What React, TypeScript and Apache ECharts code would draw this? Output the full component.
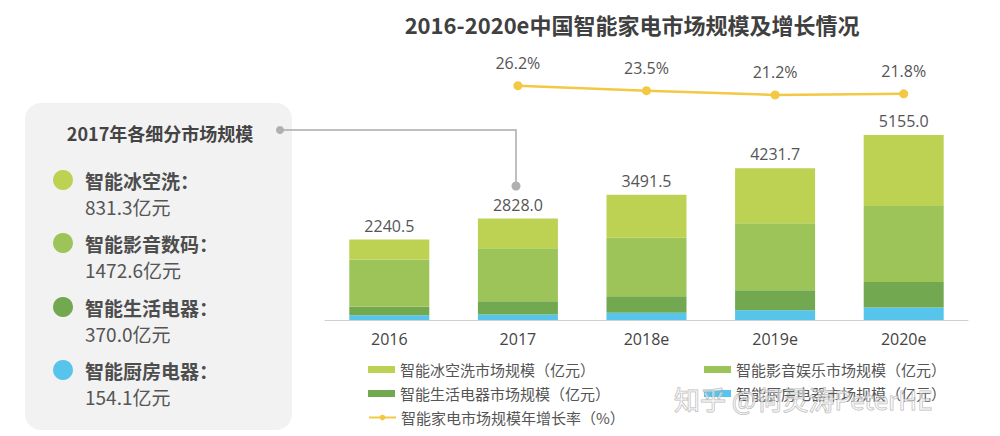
import React, { useEffect, useRef } from "react";
import * as echarts from "echarts";

// Years on the category axis
const years = ["2016", "2017", "2018e", "2019e", "2020e"];

// Segment sizes (亿元), stacked bottom → top: kitchen, living, audio/video, fridge/AC/washer
const iceWash = [555.5, 831.3, 1201.5, 1536.7, 1978.0];
const audioVideo = [1315.0, 1472.6, 1630.0, 1865.0, 2117.0];
const living = [240.0, 370.0, 460.0, 555.0, 715.0];
const kitchen = [130.0, 154.1, 200.0, 275.0, 345.0];

// Year-on-year growth of the whole market (%)
const growth: (number | string)[] = ["-", 26.2, 23.5, 21.2, 21.8];

// Legend / series names
const seriesNames = [
  "智能冰空洗市场规模（亿元）",
  "智能影音娱乐市场规模（亿元）",
  "智能生活电器市场规模（亿元）",
  "智能厨房电器市场规模（亿元）",
  "智能家电市场规模年增长率（%）",
];

// Side panel: the 2017 breakdown
const panelNames = ["智能冰空洗", "智能影音数码", "智能生活电器", "智能厨房电器"];
const panelYear = 1;

const colors = {
  ice: "#bdd153",
  av: "#9cc458",
  living: "#72a84f",
  kitchen: "#57c4ec",
  line: "#f3c843",
};

const totals = years.map(
  (_, i) => Math.round((iceWash[i] + audioVideo[i] + living[i] + kitchen[i]) * 10) / 10
);

const CJK = "'Noto Sans CJK SC', 'Noto Sans', sans-serif";
const NUM = "'Open Sans', 'Noto Sans CJK SC', sans-serif";

export default function App() {
  const ref = useRef<HTMLDivElement>(null);

  useEffect(() => {
    if (!ref.current) return;
    const chart = echarts.init(ref.current, null, { renderer: "svg" });

    const panelSeries = [iceWash, audioVideo, living, kitchen];
    const panelColors = [colors.ice, colors.av, colors.living, colors.kitchen];
    const panelRows = [180, 243, 307, 370];

    const panelGraphics: any[] = [];
    panelNames.forEach((name, i) => {
      const y = panelRows[i];
      panelGraphics.push({
        type: "circle",
        shape: { cx: 63, cy: y, r: 10 },
        style: { fill: panelColors[i] },
        z: 2,
      });
      panelGraphics.push({
        type: "text",
        x: 85,
        y: y,
        style: {
          text: name + "：",
          fontSize: 19,
          fontFamily: CJK,
          fontWeight: "bold",
          fill: "#4d4d4d",
          textVerticalAlign: "middle",
        },
        z: 2,
      });
      panelGraphics.push({
        type: "text",
        x: 85,
        y: y + 26,
        style: {
          text: panelSeries[i][panelYear].toFixed(1) + "亿元",
          fontSize: 19,
          fontFamily: CJK,
          fill: "#555",
          textVerticalAlign: "middle",
        },
        z: 2,
      });
    });

    const legendBase = {
      padding: 0,
      itemWidth: 27,
      itemHeight: 7,
      textStyle: { fontSize: 15, color: "#555", fontFamily: CJK },
      selectedMode: false,
    };

    const option: any = {
      animation: false,
      backgroundColor: "#ffffff",
      grid: [
        { left: 325, right: 32, top: 104.7, bottom: 116 },
        { left: 325, right: 32, top: 78.6, height: 55.8 },
      ],
      xAxis: [
        {
          type: "category",
          gridIndex: 0,
          data: years,
          axisLine: { lineStyle: { color: "#cfcfcf", width: 1 } },
          axisTick: { show: false },
          axisLabel: { fontSize: 16, color: "#444", margin: 11, fontFamily: NUM },
        },
        {
          type: "category",
          gridIndex: 1,
          data: years,
          show: false,
        },
      ],
      yAxis: [
        { type: "value", gridIndex: 0, min: 0, max: 6000, show: false, splitLine: { show: false } },
        { type: "value", gridIndex: 1, min: 0, max: 30, show: false, splitLine: { show: false } },
      ],
      legend: [
        { ...legendBase, left: 368, top: 362, data: [{ name: seriesNames[0], icon: "rect" }] },
        { ...legendBase, left: 704, top: 362, data: [{ name: seriesNames[1], icon: "rect" }] },
        { ...legendBase, left: 368, top: 386, data: [{ name: seriesNames[2], icon: "rect" }] },
        { ...legendBase, left: 704, top: 386, data: [{ name: seriesNames[3], icon: "rect" }] },
        { ...legendBase, left: 368, top: 410, data: [{ name: seriesNames[4] }] },
      ],
      series: [
        {
          name: seriesNames[3],
          type: "bar",
          stack: "market",
          barWidth: 80,
          data: kitchen,
          itemStyle: { color: colors.kitchen },
        },
        {
          name: seriesNames[2],
          type: "bar",
          stack: "market",
          barWidth: 80,
          data: living,
          itemStyle: { color: colors.living },
        },
        {
          name: seriesNames[1],
          type: "bar",
          stack: "market",
          barWidth: 80,
          data: audioVideo,
          itemStyle: { color: colors.av },
        },
        {
          name: seriesNames[0],
          type: "bar",
          stack: "market",
          barWidth: 80,
          data: iceWash,
          itemStyle: { color: colors.ice },
          label: {
            show: true,
            position: "top",
            distance: 6,
            fontSize: 16,
            color: "#555",
            fontFamily: NUM,
            formatter: (p: any) => totals[p.dataIndex].toFixed(1),
          },
        },
        {
          name: seriesNames[4],
          type: "line",
          xAxisIndex: 1,
          yAxisIndex: 1,
          data: growth,
          symbol: "circle",
          symbolSize: 9,
          lineStyle: { color: colors.line, width: 2.5 },
          itemStyle: { color: colors.line },
          label: {
            show: true,
            position: "top",
            distance: 10,
            fontSize: 16,
            color: "#555",
            fontFamily: NUM,
            formatter: (p: any) => Number(p.value).toFixed(1) + "%",
          },
        },
      ],
      graphic: [
        {
          type: "text",
          x: 632,
          y: 24,
          style: {
            text: "2016-2020e中国智能家电市场规模及增长情况",
            fontSize: 22,
            fontWeight: "bold",
            fontFamily: CJK,
            fill: "#404040",
            textAlign: "center",
            textVerticalAlign: "middle",
          },
        },
        {
          type: "rect",
          shape: { x: 25, y: 103, width: 267, height: 327, r: 16 },
          style: { fill: "#f2f2f3" },
          z: 1,
        },
        {
          type: "text",
          x: 160,
          y: 133,
          style: {
            text: "2017年各细分市场规模",
            fontSize: 18,
            fontWeight: "bold",
            fontFamily: CJK,
            fill: "#444",
            textAlign: "center",
            textVerticalAlign: "middle",
          },
          z: 2,
        },
        {
          type: "polyline",
          shape: { points: [[280, 130], [516, 130], [516, 186]] },
          style: { stroke: "#aaaaaa", lineWidth: 1.5, fill: null },
          z: 3,
        },
        { type: "circle", shape: { cx: 280, cy: 130, r: 4 }, style: { fill: "#b0b0b0" }, z: 3 },
        { type: "circle", shape: { cx: 516, cy: 186, r: 4.5 }, style: { fill: "#b0b0b0" }, z: 3 },
        ...panelGraphics,
        {
          type: "text",
          x: 674,
          y: 398,
          style: {
            text: "知乎 @何灵涛PeterHE",
            fontSize: 26,
            fontFamily: CJK,
            fill: "rgba(255,255,255,0.45)",
            stroke: "rgba(170,170,170,0.8)",
            lineWidth: 1,
            textVerticalAlign: "middle",
          },
          z: 20,
        },
      ],
    };

    chart.setOption(option);
    return () => chart.dispose();
  }, []);

  return (
    <div
      ref={ref}
      style={{ position: "fixed", left: 0, top: 0, width: 1000, height: 436, background: "#fff" }}
    />
  );
}
